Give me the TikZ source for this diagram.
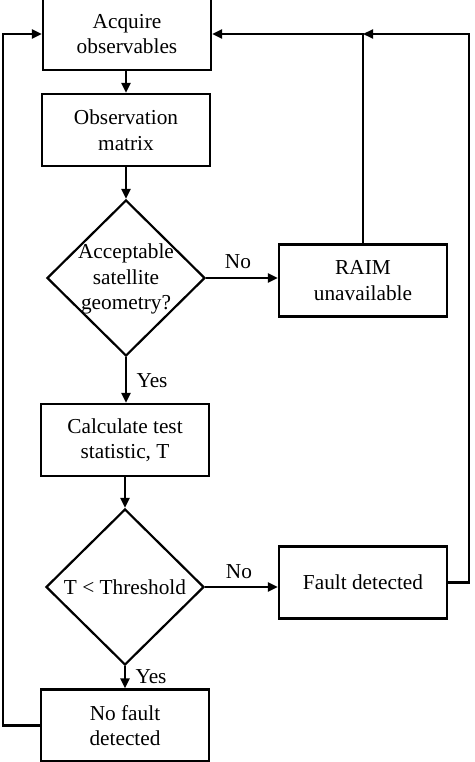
\documentclass[tikz,border=0pt]{standalone}
\usepackage{fontspec}
\setmainfont{Liberation Serif}
\usetikzlibrary{shapes.geometric,arrows.meta}
\tikzset{
  box/.style={draw, line width=2.2pt, minimum width=168pt, minimum height=72pt, align=center, inner sep=0pt},
  decision/.style={draw, diamond, line width=2.2pt, minimum width=158pt, minimum height=156pt, inner sep=0pt},
  flow/.style={line width=2.2pt, -{Triangle[length=10pt,width=9pt]}},
  lbl/.style={inner sep=0pt}
}
\begin{document}
\begin{tikzpicture}[x=1pt,y=-1pt,font=\fontsize{21.3}{25.5}\selectfont]
    \path[use as bounding box] (0,0) rectangle (474,762);
    \clip (0,0) rectangle (474,762);
    % main column
    \node[box] (acq) at (127,34) {Acquire\\observables};
    \node[box] (obs) at (126,130) {Observation\\matrix};
    \node[decision] (geom) at (126,278) {};
    \node[align=center, inner sep=0pt] (geomtxt) at (126,279) {Acceptable\\satellite\\geometry?};
    \node[box] (calc) at (125,440) {Calculate test\\statistic, T};
    \node[decision] (thr) at (125,587) {};
    \node[inner sep=0pt] (thrtxt) at (125,587) {T < Threshold};
    \node[box] (nofault) at (125,725.5) {No fault\\detected};
    % right column
    \node[box] (raim) at (363,280.5) {RAIM\\unavailable};
    \node[box] (fault) at (363,582.5) {Fault detected};
    % loop corners
    \coordinate (jn) at (raim.north |- acq.east);
    \coordinate (rtop) at (469,34);
    \coordinate (ltop) at (3,34);
    % connectors
    \draw[flow] (obs.north |- acq.south) -- (obs.north);
    \draw[flow] (obs.south) -- (geom.north);
    \draw[flow] (geom.east) -- (geom.east -| raim.west);
    \draw[flow] (geom.south) -- (geom.south |- calc.north);
    \draw[flow] (thr.north |- calc.south) -- (thr.north);
    \draw[flow] (thr.east) -- (thr.east -| fault.west);
    \draw[flow] (thr.south) -- (nofault.north);
    \draw[flow] (raim.north) |- (acq.east);
    \draw[flow] (fault.east) -| (rtop) -- (jn);
    \draw[flow] (nofault.west) -| (ltop) -- (acq.west);
    % labels
    \node[lbl] (no1) at (238,262) {No};
    \node[lbl] (yes1) at (152,381) {Yes};
    \node[lbl] (no2) at (239,572) {No};
    \node[lbl] (yes2) at (151,677) {Yes};
\end{tikzpicture}
\end{document}
